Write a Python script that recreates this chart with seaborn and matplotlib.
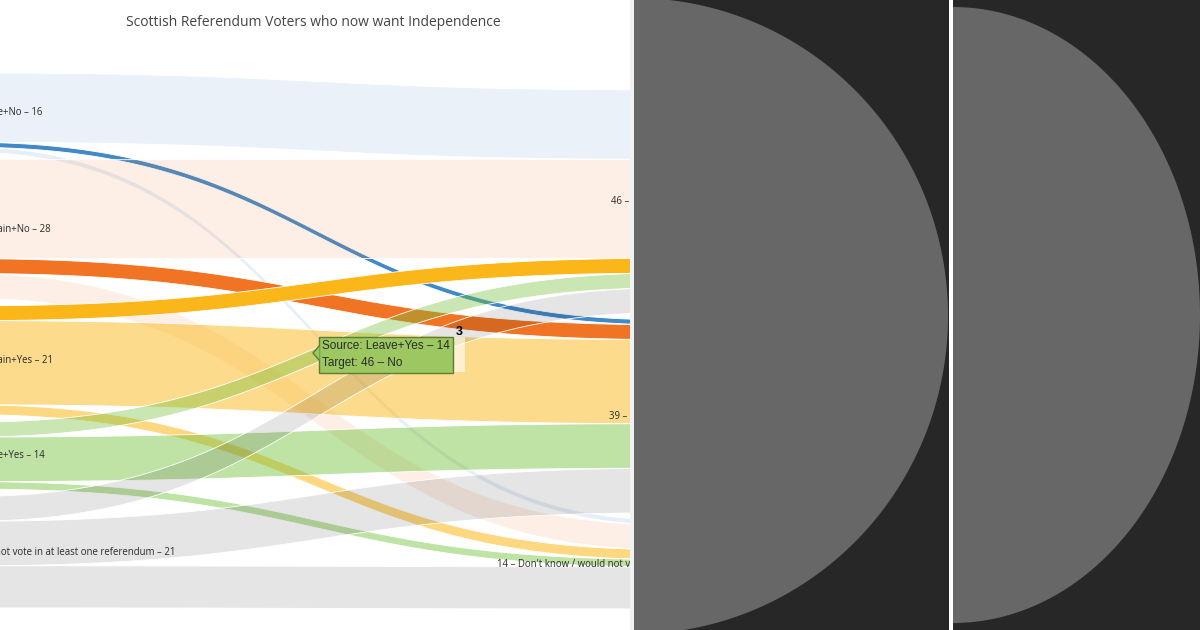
import numpy as np
import matplotlib
matplotlib.use("Agg")
import matplotlib.pyplot as plt
from matplotlib.patches import Rectangle, Polygon
import seaborn as sns

# ---------------- data ----------------
title = "Scottish Referendum Voters who now want Independence"
source_labels = ["Leave+No – 16", "Remain+No – 28", "Remain+Yes – 21",
                 "Leave+Yes – 14", "Did not vote in at least one referendum – 21"]
target_labels = ["46 – No", "39 – Yes", "14 – Don't know / would not vote"]
# flow values: rows = sources, columns = targets (No, Yes, Don't know)
flow_leave_no = [14, 1, 1]
flow_remain_no = [20, 3, 5]
flow_remain_yes = [3, 17, 2]
flow_leave_yes = [3, 9, 1.5]
flow_did_not_vote = [5, 9, 8.5]
flows = [flow_leave_no, flow_remain_no, flow_remain_yes, flow_leave_yes, flow_did_not_vote]
link_colors = [
    [(0.20, 0.47, 0.78, 0.10), "#4189c7", (0.20, 0.47, 0.78, 0.12)],
    [(0.96, 0.50, 0.20, 0.12), "#f07423", (0.96, 0.50, 0.20, 0.12)],
    ["#fbb719", (0.99, 0.72, 0.10, 0.50), (0.99, 0.72, 0.10, 0.55)],
    [(0.45, 0.75, 0.22, 0.38), (0.45, 0.75, 0.22, 0.45), (0.45, 0.75, 0.22, 0.45)],
    [(0, 0, 0, 0.10), (0, 0, 0, 0.10), (0, 0, 0, 0.10)],
]
tooltip_lines = ["Source: Leave+Yes – 14", "Target: 46 – No"]
tooltip_value = "3"

# ---------------- layout ----------------
W, H = 1200, 630
px_per_unit = 4.95
left_top, left_gap = 73.0, 7.5
right_top, right_gap = 90.0, 7.0
x_src, x_tgt = -31.0, 665.0

sns.set_theme(style="white")
plt.rcParams['font.family'] = ['Open Sans', 'DejaVu Sans']

fig = plt.figure(figsize=(W / 100, H / 100), dpi=100)
ax = fig.add_axes([0, 0, 1, 1])
ax.set_xlim(0, W)
ax.set_ylim(H, 0)
ax.axis("off")
fig.patch.set_facecolor("white")

vals = np.array(flows, dtype=float)
src_tot = vals.sum(axis=1)
tgt_tot = vals.sum(axis=0)

src_y = left_top + np.concatenate([[0], np.cumsum(src_tot[:-1] * px_per_unit + left_gap)])
tgt_y = right_top + np.concatenate([[0], np.cumsum(tgt_tot[:-1] * px_per_unit + right_gap)])


def ribbon(y0a, y0b, y1a, y1b, color):
    t = np.linspace(0, 1, 160)
    xm = (x_src + x_tgt) / 2
    bx = (1 - t) ** 3 * x_src + 3 * (1 - t) ** 2 * t * xm + 3 * (1 - t) * t ** 2 * xm + t ** 3 * x_tgt
    h = 3 * (1 - t) * t ** 2 + t ** 3
    top = y0a * (1 - h) + y1a * h
    bot = y0b * (1 - h) + y1b * h
    ax.fill(np.concatenate([bx, bx[::-1]]), np.concatenate([top, bot[::-1]]),
            fc=color, ec="white", lw=0.6, zorder=2)


# offsets within nodes
src_off = src_y.copy()
tgt_off = tgt_y.copy()
src_start = {}
tgt_start = {}
for i in range(vals.shape[0]):
    for j in range(vals.shape[1]):
        src_start[(i, j)] = src_off[i]
        src_off[i] += vals[i, j] * px_per_unit
for j in range(vals.shape[1]):
    for i in range(vals.shape[0]):
        tgt_start[(i, j)] = tgt_off[j]
        tgt_off[j] += vals[i, j] * px_per_unit

for i in range(vals.shape[0]):
    for j in range(vals.shape[1]):
        th = vals[i, j] * px_per_unit
        a, b = src_start[(i, j)], tgt_start[(i, j)]
        ribbon(a, a + th, b, b + th, link_colors[i][j])

# node labels
for i, lab in enumerate(source_labels):
    yc = src_y[i] + src_tot[i] * px_per_unit / 2
    ax.text(x_src + 8, yc, lab, fontsize=6.9, color="#2a2a2a", ha="left", va="center", zorder=3)
for j, lab in enumerate(target_labels):
    yc = tgt_y[j] + tgt_tot[j] * px_per_unit / 2
    ax.text(x_tgt - 20, yc, lab, fontsize=6.9, color="#2a2a2a", ha="right", va="center", zorder=3)

# title
ax.text(313, 22, title, fontsize=10, color="#444444", ha="center", va="center", zorder=3)

# tooltip
ax.add_patch(Rectangle((453, 337), 12, 35, fc=(1, 1, 1, 0.6), ec="none", zorder=3))
ax.add_patch(Rectangle((319, 337), 134, 36, fc="#9dc760", ec="#5b7d35", lw=1, zorder=4))
ax.add_patch(Polygon([[319.5, 346], [313, 353], [319.5, 360]], closed=True,
                     fc="#9dc760", ec="none", zorder=4))
ax.plot([319, 313, 319], [346, 353, 360], color="#5b7d35", lw=1, zorder=4)
ax.text(322, 346, tooltip_lines[0], fontsize=8.5, family=["Liberation Sans"], color="#2b2b2b",
        ha="left", va="center", zorder=5)
ax.text(322, 363, tooltip_lines[1], fontsize=8.5, family=["Liberation Sans"], color="#2b2b2b",
        ha="left", va="center", zorder=5)
ax.text(459, 332, tooltip_value, fontsize=9, family=["Liberation Sans"], color="black",
        ha="center", va="center", fontweight="bold", zorder=5)

# dark panels with half-ellipses
ax.add_patch(Rectangle((630, 0), 4, H, fc="#f2f2f2", ec="none", zorder=6))
ax.add_patch(Rectangle((634, 0), W - 634, H, fc="#272727", ec="none", zorder=6))
ax.add_patch(Rectangle((949, 0), 4, H, fc="#ffffff", ec="none", zorder=8))
th = np.linspace(-np.pi / 2, np.pi / 2, 300)
for cx, cy, rx, ry in [(634, 316, 314, 318), (953, 315, 247, 308)]:
    pts = np.column_stack([cx + rx * np.cos(th), cy + ry * np.sin(th)])
    ax.add_patch(Polygon(pts, closed=True, fc="#676767", ec="none", zorder=7))

fig.savefig("out.png", dpi=100, facecolor="white")
